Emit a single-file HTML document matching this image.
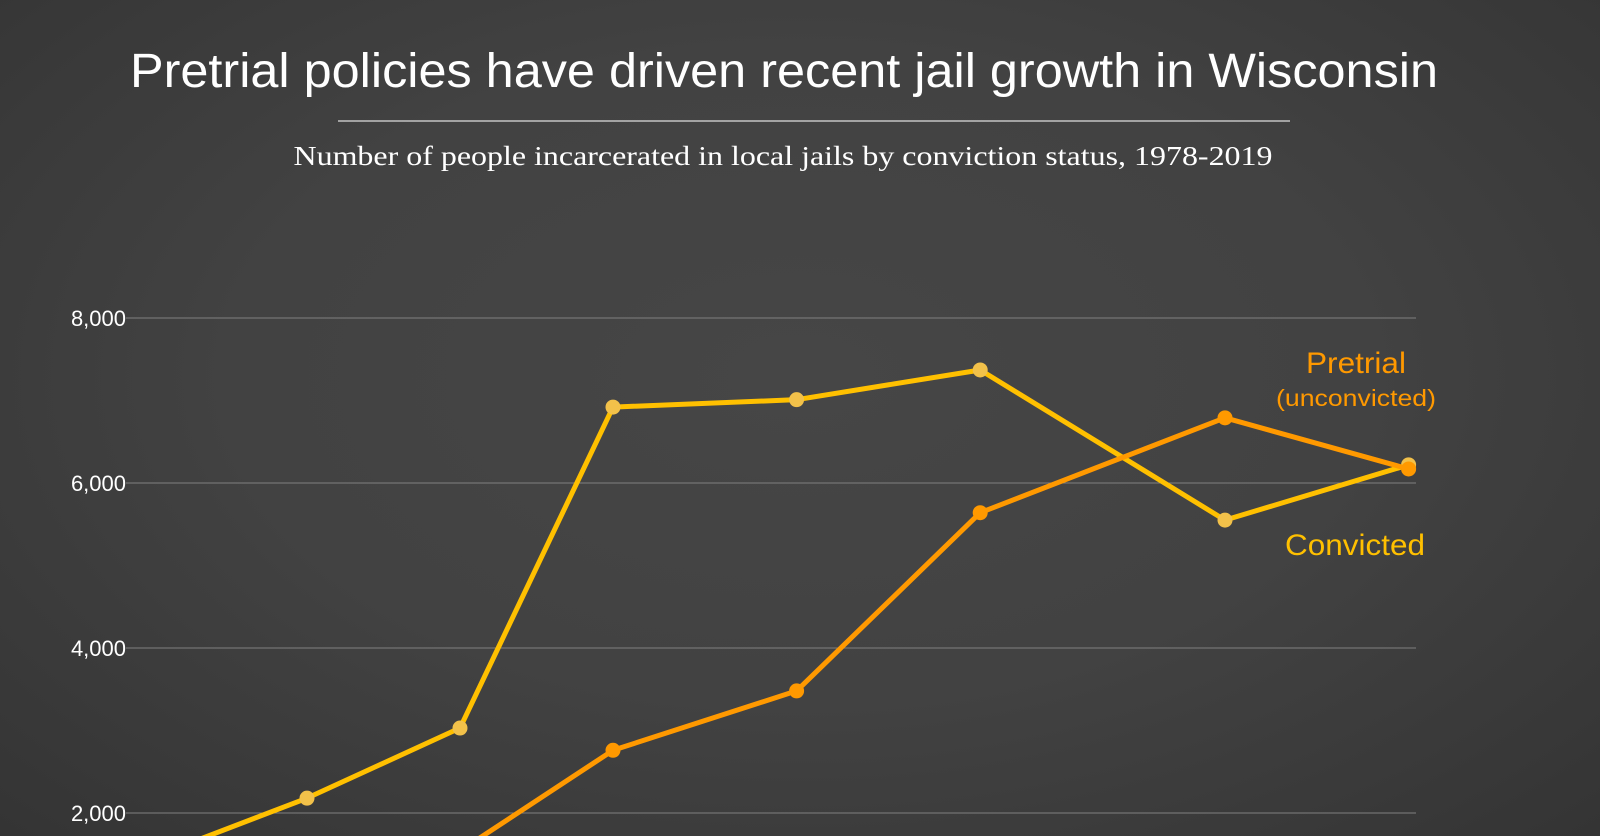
<!DOCTYPE html>
<html><head><meta charset="utf-8"><style>
html,body{margin:0;padding:0;width:1600px;height:836px;overflow:hidden;}
body{background:radial-gradient(ellipse at 50% 45%,#464646 0%,#424242 50%,#343434 100%);font-family:"Liberation Sans",sans-serif;}
svg{position:absolute;left:0;top:0;display:block;}
</style></head><body>
<svg width="1600" height="836">
<text x="784" y="87" text-anchor="middle" fill="#fff" font-size="48" textLength="1308" lengthAdjust="spacingAndGlyphs" font-family="Liberation Sans, sans-serif">Pretrial policies have driven recent jail growth in Wisconsin</text>
<line x1="338" y1="121" x2="1290" y2="121" stroke="#ddd" stroke-width="1.2"/>
<text x="783" y="165" text-anchor="middle" fill="#fff" font-size="27" textLength="979" lengthAdjust="spacingAndGlyphs" font-family="Liberation Serif, serif">Number of people incarcerated in local jails by conviction status, 1978-2019</text>
<g id="grid"></g><g id="lines"></g>
<text x="1356" y="373" text-anchor="middle" fill="#ff9900" font-size="30" textLength="100" lengthAdjust="spacingAndGlyphs">Pretrial</text>
<text x="1356" y="406" text-anchor="middle" fill="#ff9900" font-size="23" textLength="160" lengthAdjust="spacingAndGlyphs">(unconvicted)</text>
<text x="1355" y="555" text-anchor="middle" fill="#ffc000" font-size="30" textLength="140" lengthAdjust="spacingAndGlyphs">Convicted</text>
</svg>
<script>
const years=[1978,1983,1988,1993,1999,2005,2013,2019];
const convicted=[1470,2180,3030,6920,7010,7370,5550,6220];
const pretrial=[700,1000,1540,2760,3480,5640,6790,6170];
const yTicks=[2000,4000,6000,8000];
const yTickLabels=["2,000","4,000","6,000","8,000"];
const ns="http://www.w3.org/2000/svg";
const x=v=>154+(v-1978)*30.6;
const y=v=>813-(v-2000)*165/2000;
const grid=document.getElementById('grid'),lines=document.getElementById('lines');
yTicks.forEach((t,i)=>{
 const l=document.createElementNS(ns,'line');
 l.setAttribute('x1',126);l.setAttribute('x2',1416);l.setAttribute('y1',y(t));l.setAttribute('y2',y(t));
 l.setAttribute('stroke','#808080');l.setAttribute('stroke-width','1');
 
 
 grid.appendChild(l);
 const tx=document.createElementNS(ns,'text');
 tx.setAttribute('x',126);tx.setAttribute('y',y(t)+8);tx.setAttribute('text-anchor','end');
 tx.setAttribute('fill','#fff');tx.setAttribute('font-size','22');tx.textContent=yTickLabels[i];
 
 
 grid.appendChild(tx);
});
function series(vals,color,mark,name){
 const p=document.createElementNS(ns,'polyline');
 p.setAttribute('points',vals.map((v,i)=>x(years[i])+','+y(v)).join(' '));
 p.setAttribute('fill','none');p.setAttribute('stroke',color);p.setAttribute('stroke-width','5');p.setAttribute('stroke-linejoin','round');
 
 
 lines.appendChild(p);
 vals.forEach((v,i)=>{
  const c=document.createElementNS(ns,'circle');
  c.setAttribute('cx',x(years[i]));c.setAttribute('cy',y(v));c.setAttribute('r','7.5');c.setAttribute('fill',mark);
  
  
  lines.appendChild(c);
 });
}
series(convicted,'#ffc000','#f2c14a','convicted');
series(pretrial,'#ff9900','#ff9900','pretrial');
</script>
</body></html>
